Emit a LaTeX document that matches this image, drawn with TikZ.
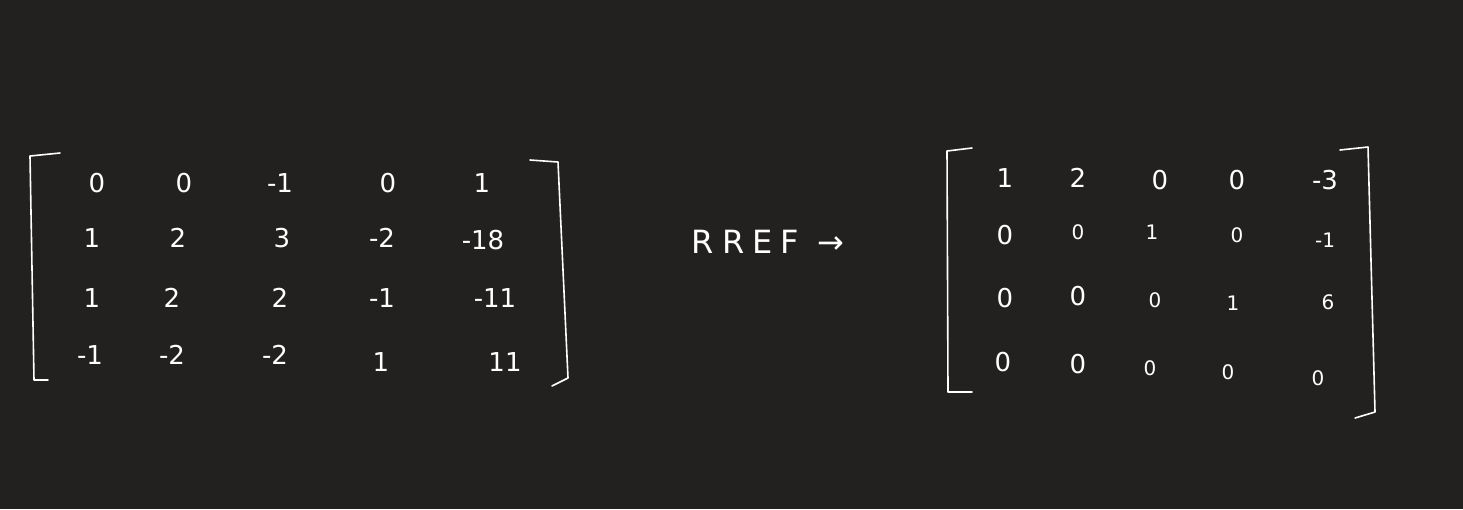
\documentclass[tikz,border=0pt]{standalone}
\usepackage{fontspec}
\setmainfont{DejaVu Sans}
\definecolor{bg}{HTML}{222120}
\begin{document}
\begin{tikzpicture}[x=1pt,y=-1pt,
  e/.style={text=white,font=\fontsize{26}{26}\selectfont},
  es/.style={text=white,font=\fontsize{20}{20}\selectfont},
  br/.style={draw=white,line width=1.6pt,line cap=round,line join=round}]
\fill[bg] (0,0) rectangle (1463,509);
\useasboundingbox (0,0) rectangle (1463,509);
% left matrix
\foreach \t/\x/\y [count=\i] in {0/97/183,0/184/183,-1/280/183,0/388/183,1/482/183,
  1/92/238,2/178/238,3/282/238,-2/382/238,-18/483/240,
  1/92/298,2/172/298,2/280/298,-1/382/298,-11/495/298,
  -1/90/355,-2/172/355,-2/275/355,1/381/362,11/505/362}
  \node[e] (l\i) at (\x,\y) {\t};
\coordinate (la) at (60,153); \coordinate (lb) at (30,156);
\coordinate (lc) at (34,380); \coordinate (ld) at (48,380);
\draw[br] (la) -- (lb) -- (lc) -- (ld);
\coordinate (ra) at (530,160); \coordinate (rb) at (558,162);
\coordinate (rc) at (568,378); \coordinate (rd) at (552,386);
\draw[br] (ra) -- (rb) -- (rc) -- (rd);
% label
\node[text=white,font=\fontsize{32}{32}\selectfont\addfontfeatures{LetterSpace=25}] (lab) at (768,242) {RREF →};
% right matrix
\foreach \t/\x/\y/\s [count=\i] in {1/1005/178/e,2/1078/178/e,0/1160/180/e,0/1237/180/e,-3/1325/180/e,
  0/1005/235/e,0/1078/232/es,1/1152/232/es,0/1237/235/es,-1/1325/240/es,
  0/1005/298/e,0/1078/296/e,0/1155/300/es,1/1233/303/es,6/1328/302/es,
  0/1003/362/e,0/1078/364/e,0/1150/368/es,0/1228/372/es,0/1318/378/es}
  \node[\s] (r\i) at (\x,\y) {\t};
\coordinate (ma) at (972,148); \coordinate (mb) at (947,151);
\coordinate (mc) at (948,392); \coordinate (md) at (972,392);
\draw[br] (ma) -- (mb) -- (mc) -- (md);
\coordinate (na) at (1340,150); \coordinate (nb) at (1368,147);
\coordinate (nc) at (1375,412); \coordinate (nd) at (1355,418);
\draw[br] (na) -- (nb) -- (nc) -- (nd);
\end{tikzpicture}
\end{document}
